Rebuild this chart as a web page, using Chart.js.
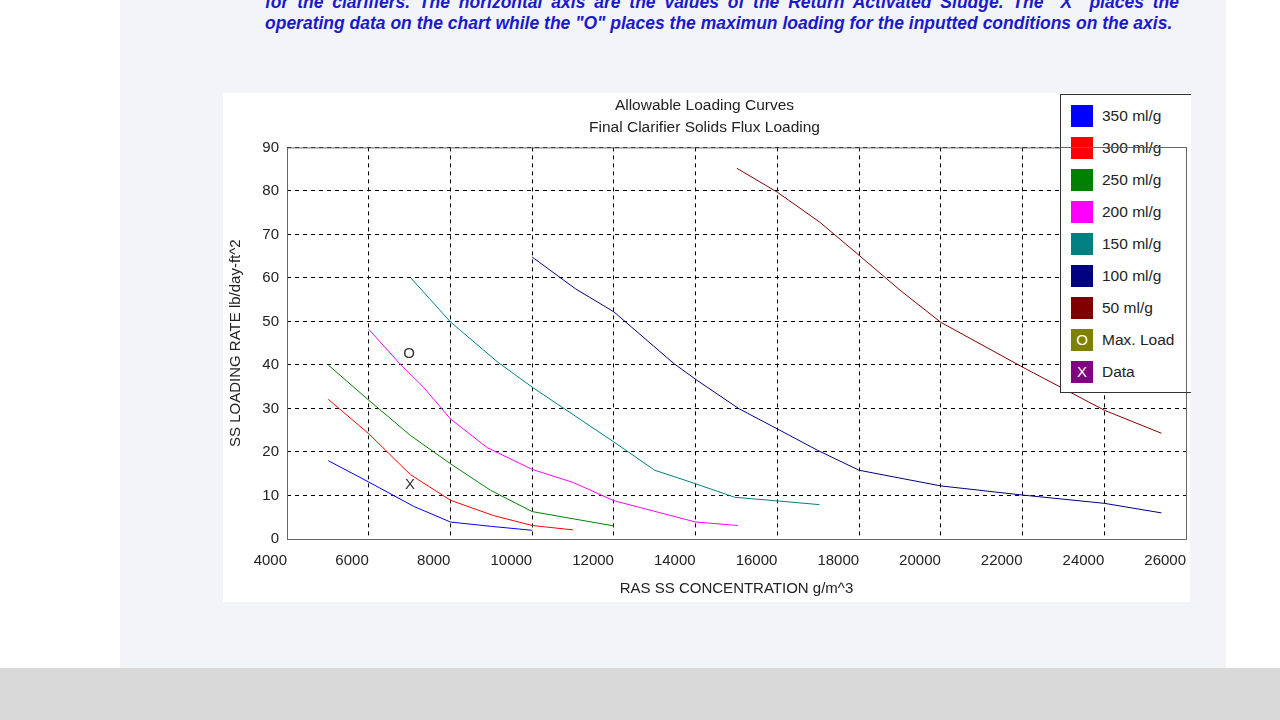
<!DOCTYPE html>
<html><head><meta charset="utf-8">
<script src="https://cdn.jsdelivr.net/npm/chart.js@4"></script>
<style>
body{margin:0;width:1280px;height:720px;background:#fff;position:relative;overflow:hidden;font-family:"Liberation Sans",Arial,sans-serif}
#panel{position:absolute;left:120px;top:0;width:1106px;height:668px;background:#f3f4f8}
#bottom{position:absolute;left:0;top:668px;width:1280px;height:52px;background:#d9d9d9}
#txt{position:absolute;left:265px;top:-8px;width:914px;color:#1a1acc;font-weight:bold;font-style:italic;font-family:"Liberation Sans Narrow","Liberation Sans",Arial,sans-serif;font-size:17.5px;line-height:21px;text-align:justify;}
#white{position:absolute;left:223px;top:93px;width:967px;height:509px;background:#fff}
#wrap{position:absolute;left:223px;top:93px;width:1000px;height:509px}
#legend{position:absolute;left:1060px;top:94px;width:130px;height:297px;border:1px solid #333;border-right:none;background:#fff}
.it{position:absolute;left:10px;height:22px;font-size:15.5px;color:#222;line-height:22px}
.sw{position:absolute;left:0;top:0;width:22px;height:22px;color:#fff;text-align:center;font-size:15px}
.lb{position:absolute;left:31px;top:0;white-space:nowrap}
#vl{position:absolute;left:1186px;top:147px;width:1px;height:245px;background:#666}
#hl{position:absolute;left:1061px;top:147px;width:126px;height:1px;background:#666}
</style></head><body>
<div id="panel"></div><div id="bottom"></div>
<div id="txt">for the clarifiers. The horizontal axis are the values of the Return Activated Sludge. The "X" places the operating data on the chart while the "O" places the maximun loading for the inputted conditions on the axis.</div>
<div id="white"></div>
<div id="wrap"><canvas id="c" width="1000" height="509"></canvas></div>
<div id="legend"></div><div id="vl"></div><div id="hl"></div>
<script>
const seriesNames=["350 ml/g","300 ml/g","250 ml/g","200 ml/g","150 ml/g","100 ml/g","50 ml/g"];
const seriesColors=["#0000ff","#ff0000","#008000","#ff00ff","#008080","#000080","#800000"];
const s350=[[5010,18],[6000,13.1],[7100,7.5],[8000,3.9],[9000,2.9],[10000,2.0]];
const s300=[[5010,32.1],[6000,24.2],[7020,14.8],[8000,8.9],[9050,5.4],[10000,3.1],[11000,2.1]];
const s250=[[5010,40],[6000,31.9],[7020,23.8],[8000,17.3],[8980,11.2],[10000,6.3],[12000,3.0]];
const s200=[[6000,48.2],[6760,40.3],[7330,35],[8000,27.6],[8900,21],[10000,16],[11000,13],[12000,8.8],[14000,3.9],[15030,3.1]];
const s150=[[7030,60],[8000,49.9],[9150,40.7],[10000,34.9],[12000,22.3],[13000,15.8],[14000,12.7],[14950,9.6],[16060,8.7],[17030,7.9]];
const s100=[[10000,64.8],[11060,57.5],[12000,52.2],[13470,40.3],[14030,36.5],[15050,30],[16060,25],[16980,20.4],[18000,15.8],[20000,12.2],[22000,10.1],[24000,8.2],[25400,6]];
const s50=[[15010,85.2],[16000,79.7],[17040,72.8],[18000,65.2],[19000,57.2],[20000,49.8],[22000,39.5],[24000,29.6],[25400,24.3]];
const seriesData=[s350,s300,s250,s200,s150,s100,s50];
const markers=[{t:"O",x:6990,y:42.5},{t:"X",x:7010,y:12.4}];
const legendExtra=[["O","#808000","Max. Load"],["X","#800080","Data"]];
const xTicks=[4000,26000,2000], yTicks=[0,90,10];

const leg=document.getElementById('legend');
const items=seriesNames.map((n,i)=>["",seriesColors[i],n]).concat(legendExtra);
items.forEach((it,i)=>{const d=document.createElement('div');d.className='it';d.style.top=(10+i*32)+'px';
d.innerHTML='<div class="sw" style="background:'+it[1]+'">'+it[0]+'</div><div class="lb">'+it[2]+'</div>';leg.appendChild(d);});

const markPlugin={id:'marks',afterDatasetsDraw(ch){const c=ch.ctx,xs=ch.scales.x,ys=ch.scales.y;c.save();c.font='15px "Liberation Sans",Arial';c.fillStyle='#333';c.textAlign='center';c.textBaseline='middle';
markers.forEach(m=>c.fillText(m.t,xs.getPixelForValue(m.x),ys.getPixelForValue(m.y)));
c.strokeStyle='#666';c.lineWidth=1;const a=ch.chartArea;c.strokeRect(a.left+0.5,a.top+0.5,a.right-a.left,a.bottom-a.top);c.restore();}};
const font={family:'"Liberation Sans",Arial,sans-serif',size:15};
new Chart(document.getElementById('c'),{type:'scatter',
data:{datasets:seriesData.map((d,i)=>({label:seriesNames[i],data:d.map(p=>({x:p[0],y:p[1]})),showLine:true,borderColor:seriesColors[i],borderWidth:1,pointRadius:0,tension:0}))},
options:{responsive:false,animation:false,devicePixelRatio:1,
layout:{padding:{left:0,right:37,top:0,bottom:0}},
plugins:{legend:{display:false},tooltip:{enabled:false},
title:{display:true,text:["Allowable Loading Curves","Final Clarifier Solids Flux Loading"],color:'#222',font:{...font,size:15.5,weight:'normal',lineHeight:1.4},padding:{top:2,bottom:9},align:'center'}},
scales:{x:{type:'linear',min:xTicks[0],max:xTicks[1],ticks:{stepSize:xTicks[2],color:'#222',font,padding:13,align:'end',maxRotation:0,callback:v=>String(v)},
grid:{color:'#000',lineWidth:1,tickLength:0,drawTicks:false},border:{dash:[4,4],display:false},
title:{display:true,text:'RAS SS CONCENTRATION g/m^3',color:'#222',font,padding:{top:14}},afterFit(s){s.height=63;}},
y:{min:yTicks[0],max:yTicks[1],ticks:{stepSize:yTicks[2],color:'#222',font,padding:8},
grid:{color:'#000',lineWidth:1,drawTicks:false},border:{dash:[4,4],display:false},
title:{display:true,text:'SS LOADING RATE lb/day-ft^2',color:'#222',font,padding:{bottom:4}},afterFit(s){s.width=64;}}}},
plugins:[markPlugin]});
</script></body></html>
